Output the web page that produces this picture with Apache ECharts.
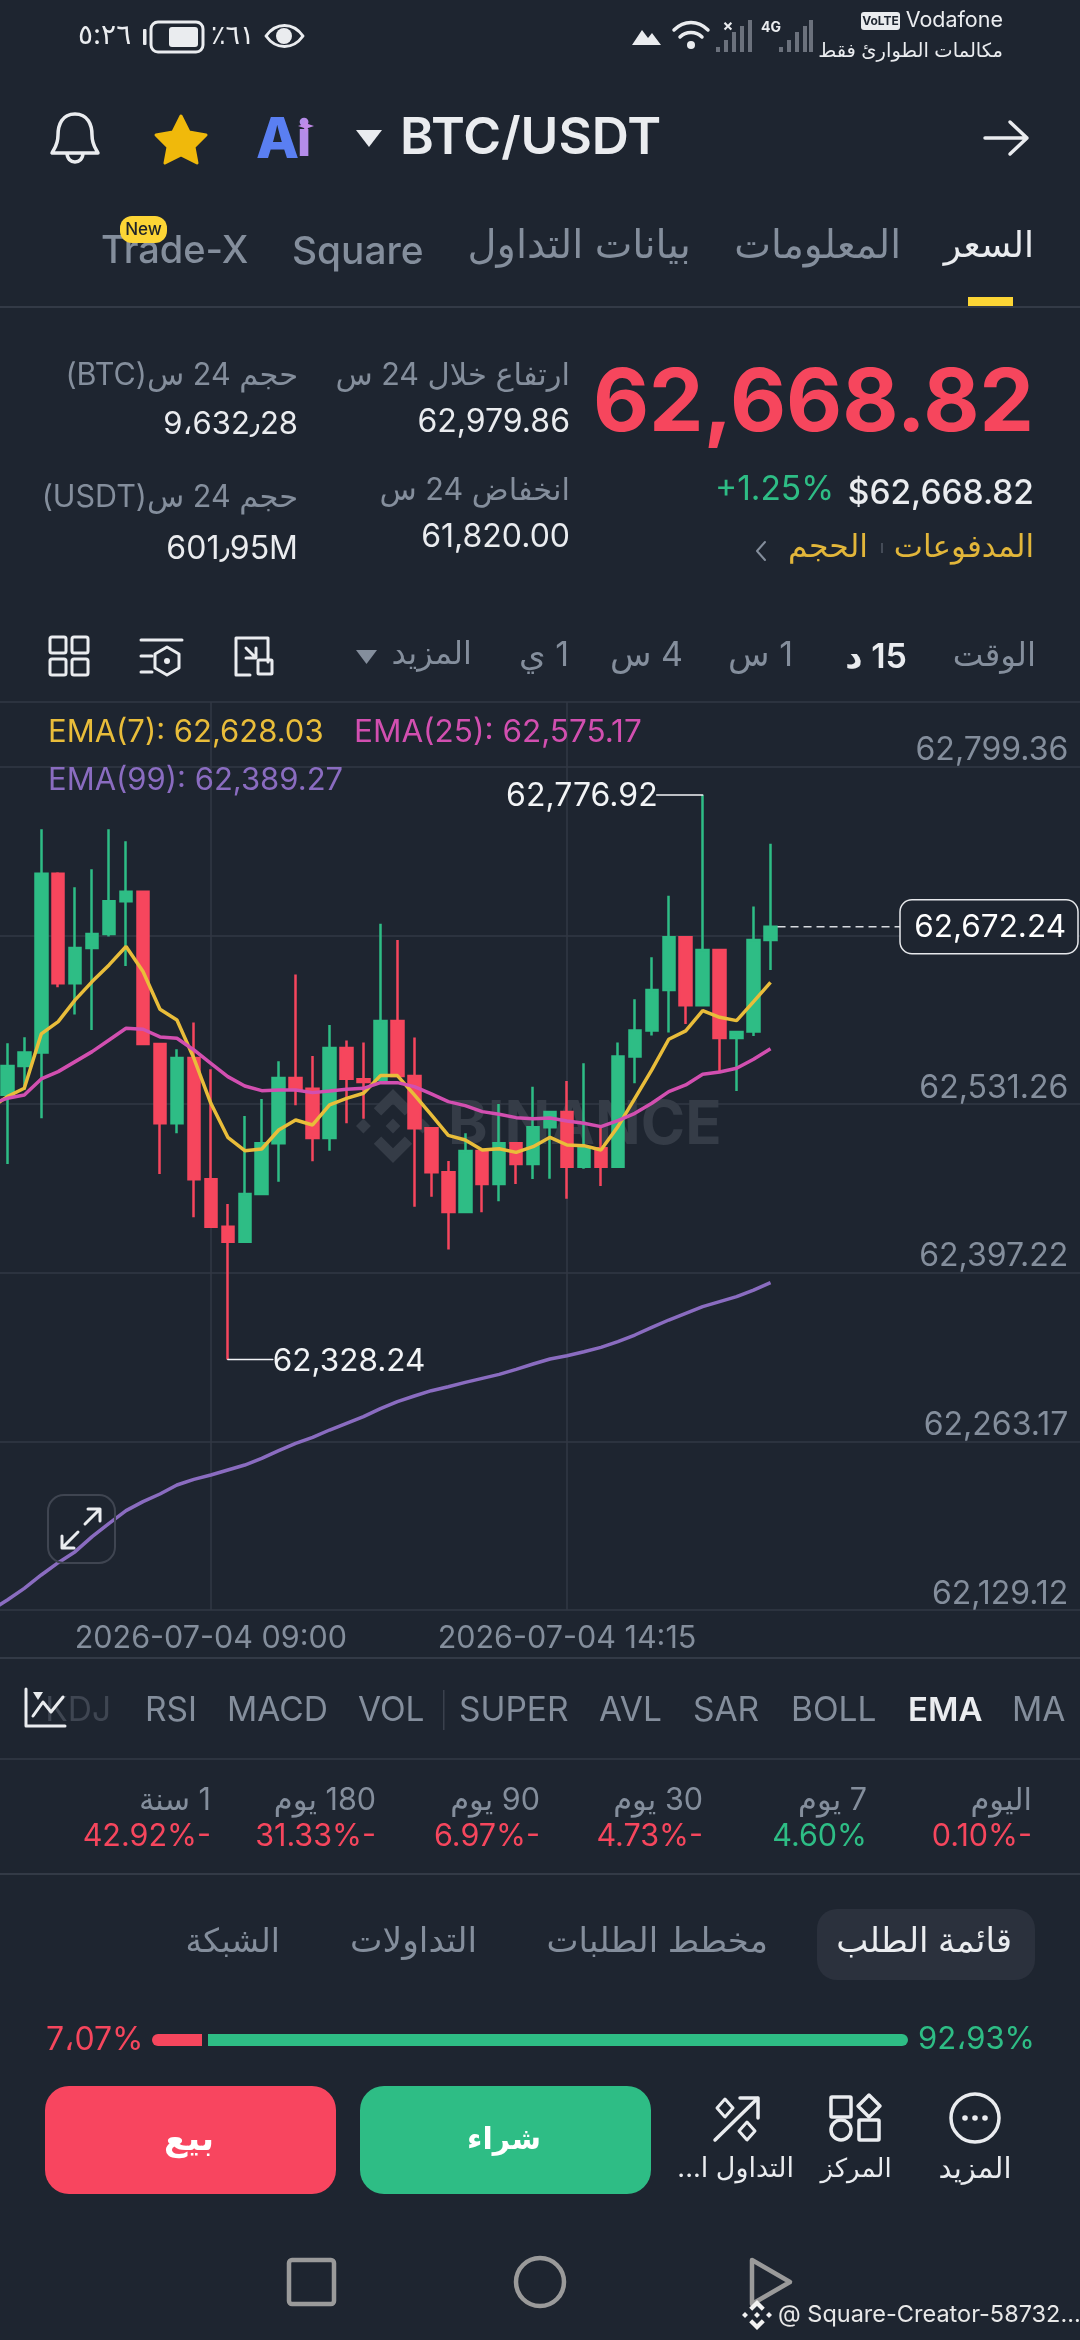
<!DOCTYPE html>
<html><head><meta charset="utf-8">
<style>html,body{margin:0;padding:0;background:#1e2530}#c{width:1080px;height:2340px}</style>
<script src="https://cdn.jsdelivr.net/npm/echarts@6/dist/echarts.min.js"></script>
</head><body><div id="c"></div>
<script>
// ---------- data ----------
const times = ['05:45','06:00','06:15','06:30','06:45','07:00','07:15','07:30','07:45','08:00','08:15','08:30','08:45','09:00','09:15','09:30','09:45','10:00','10:15','10:30','10:45','11:00','11:15','11:30','11:45','12:00','12:15','12:30','12:45','13:00','13:15','13:30','13:45','14:00','14:15','14:30','14:45','15:00','15:15','15:30','15:45','16:00','16:15','16:30','16:45','17:00','17:15'];
const datePrefix = '2026-07-04 ';
const labelledTimes = ['09:00','14:15'];
// open, close, low, high
const candles = [
['-','-','-','-'],
[62538.77,62561.56,62483.62,62579.59],[62561.56,62572.17,62542.48,62584.36],[62572.17,62714.26,62519.94,62749.79],[62714.26,62627.31,62624.13,62715.59],
[62627.31,62655.41,62602.39,62703.66],[62655.41,62666.54,62590.19,62717.97],[62666.54,62692.52,62664.42,62749.79],[62692.52,62699.95,62641.09,62740.24],
[62699.95,62579.06,62579.06,62699.95],[62579.06,62515.97,62475.67,62579.06],[62515.97,62567.93,62508.01,62574.82],[62567.93,62471.43,62441.21,62596.03],
[62471.43,62433.79,62433.79,62558.91],[62433.79,62421.86,62328.24,62451.81],[62421.86,62459.77,62421.86,62521.80],[62459.77,62500.06,62459.77,62535.32],
[62500.06,62552.02,62469.57,62565.28],[62552.02,62543.54,62530.28,62634.20],[62543.54,62504.30,62485.75,62569.52],[62504.30,62575.88,62494.23,62594.17],
[62575.88,62551.49,62515.97,62581.71],[62550.96,62548.84,62519.68,62580.12],[62550.43,62597.35,62550.43,62674.50],[62597.35,62553.61,62553.61,62661.77],
[62553.61,62511.99,62449.69,62584.10],[62511.99,62477.00,62457.64,62511.99],[62477.00,62445.45,62415.76,62486.01],[62445.45,62493.96,62445.45,62508.01],
[62493.96,62467.72,62445.18,62493.96],[62467.72,62500.06,62453.93,62531.34],[62500.06,62483.62,62467.72,62500.06],[62483.62,62512.79,62471.69,62545.13],
[62512.79,62524.98,62471.96,62524.98],[62524.98,62481.50,62456.05,62549.63],[62481.50,62496.08,62479.91,62563.68],[62496.08,62481.50,62466.13,62513.32],
[62481.50,62568.99,62481.50,62580.12],[62568.99,62589.66,62547.78,62614.58],[62589.66,62622.01,62585.69,62647.99],[62622.01,62663.89,62588.07,62696.77],
[62663.89,62609.81,62594.97,62663.89],[62609.81,62653.82,62609.81,62776.92],[62653.82,62583.83,62557.06,62653.82],[62583.83,62588.60,62541.68,62588.60],
[62588.87,62661.77,62585.42,62688.28],[62661.77,62672.24,62637.91,62738.12]];
const ema7 = [62527.90,62537.17,62543.80,62587.01,62596.82,62614.05,62628.63,62641.89,62656.47,62636.59,62606.63,62598.15,62567.66,62531.87,62504.83,62494.23,62495.55,62510.66,62518.62,62514.64,62530.55,62535.85,62539.83,62553.88,62553.88,62538.50,62522.59,62506.42,62502.71,62494.76,62495.82,62492.90,62497.41,62504.83,62498.74,62498.21,62494.76,62513.32,62535.85,62558.38,62582.77,62589.40,62605.57,62600.27,62597.62,62612.73,62628.03];
const ema25 = [62531.34,62535.85,62538.50,62551.22,62557.06,62565.01,62572.96,62582.24,62591.52,62590.73,62584.63,62583.57,62574.29,62563.68,62553.08,62545.66,62541.95,62542.48,62542.48,62540.36,62541.68,62543.01,62543.80,62548.31,62548.31,62545.13,62539.30,62533.20,62530.02,62525.25,62523.12,62520.47,62519.68,62520.21,62517.82,62515.97,62513.32,62518.09,62523.92,62531.87,62541.15,62546.45,62554.94,62556.79,62559.71,62566.87,62575.17];
const ema99 = [62128.60,62137.08,62146.35,62156.95,62166.75,62175.49,62187.41,62198.01,62208.08,62215.23,62221.32,62228.48,62232.98,62236.42,62240.40,62244.37,62249.67,62255.76,62261.59,62266.36,62272.19,62277.49,62282.79,62289.15,62294.71,62299.21,62303.45,62306.63,62310.07,62313.25,62316.43,62320.41,62324.65,62328.62,62331.27,62334.45,62337.89,62342.40,62347.69,62353.79,62359.62,62364.92,62370.21,62374.19,62378.16,62383.46,62389.27];
const yLabels = [62129.12,62263.17,62397.22,62531.26,62665.31,62799.36];
const yGridExtra = [62850.86];
const axisMin = 62129.12, axisMax = 62850.86;
const blankSlots = 18;

// ---------- style ----------
const BG='#1e2530', GRID='#323844', GREEN='#2ebd85', RED='#f6465d', YEL='#f0b90b', MUTED='#848e9c', LIGHT='#eaecef',
      C7='#e9bd3a', C25='#d24fb0', C99='#8a6cc0', FONT='Inter, "DejaVu Sans", sans-serif';
const fmt = v => v.toLocaleString('en-US',{minimumFractionDigits:2,maximumFractionDigits:2});

const chart = echarts.init(document.getElementById('c'),null,{renderer:'canvas',width:1080,height:2340});
const cats = times.concat(Array.from({length:blankSlots},(_,i)=>' '.repeat(i+1)));
const lineS = (name,d,c,w)=>({name,type:'line',data:d,symbol:'none',showSymbol:false,smooth:false,lineStyle:{color:c,width:w},silent:true,z:4});
chart.setOption({
  animation:false,backgroundColor:BG,
  grid:{left:-18.11,width:1102.4,top:702,height:908,containLabel:false,outerBoundsMode:'none'},
  xAxis:{type:'category',data:cats,boundaryGap:true,
    axisLine:{show:false},
    axisTick:{show:false,alignWithLabel:true,interval:(i,v)=>labelledTimes.includes(v)},
    axisLabel:{interval:(i,v)=>labelledTimes.includes(v),formatter:v=>datePrefix+v,color:MUTED,fontSize:30.5,fontFamily:FONT,margin:13},
    splitLine:{show:true,alignWithLabel:true,interval:(i,v)=>labelledTimes.includes(v),lineStyle:{color:GRID,width:1.5}}},
  yAxis:{type:'value',position:'right',min:axisMin,max:axisMax,scale:true,
    axisLine:{show:false},
    axisTick:{show:false,customValues:yLabels.concat(yGridExtra)},
    axisLabel:{inside:true,customValues:yLabels,formatter:v=>fmt(v),color:MUTED,fontSize:32,fontFamily:FONT,align:'right',verticalAlign:'bottom',margin:16,padding:[0,0,0,0]},
    splitLine:{show:true,lineStyle:{color:GRID,width:1.5}}},
  series:[
    {type:'candlestick',data:candles,barWidth:12,silent:true,z:3,
      itemStyle:{color:GREEN,color0:RED,borderColor:GREEN,borderColor0:RED,borderWidth:2.5}},
    lineS('EMA(7)',ema7,C7,3.5),lineS('EMA(25)',ema25,C25,3.5),lineS('EMA(99)',ema99,C99,3.5)
  ]
});

// ---------- page furniture ----------
const g=[];
let pathNo=0;
const rtl=s=>/[\u0621-\u064A]/.test(s)?'\u202B'+s+'\u202C':s;
const T=(text,x,y,size,fill,align='left',weight='normal',z=6)=>g.push({type:'text',z,silent:true,x,y,style:{text:rtl(text),fill,fontSize:size,fontFamily:FONT,fontWeight:weight,align,verticalAlign:'middle'}});
const R=(x,y,w,h,r,fill,stroke,lw,z=5)=>g.push({type:'rect',z,silent:true,shape:{x,y,width:w,height:h,r},style:{fill:fill||'none',stroke:stroke||'none',lineWidth:lw||0}});
const H=(d,fill,stroke,lw,z=6)=>{const name='ui'+(pathNo++);echarts.graphic.registerShape(name,echarts.graphic.extendPath(d,{}));
  g.push({type:name,z,silent:true,shape:{},style:{fill:fill||'none',stroke:stroke||'none',lineWidth:lw||0,lineCap:'round',lineJoin:'round'}});};
const C=(cx,cy,r,fill,stroke,lw,z=6)=>g.push({type:'circle',z,silent:true,shape:{cx,cy,r},style:{fill:fill||'none',stroke:stroke||'none',lineWidth:lw||0}});
const logo=(cx,cy,s,fill,z)=>{
  const p=a=>a.map(([x,y],i)=>(i?'L':'M')+(cx+x*s).toFixed(1)+' '+(cy+y*s).toFixed(1)).join(' ')+' Z';
  H(p([[0,-1],[.52,-.48],[.32,-.28],[0,-.6],[-.32,-.28],[-.52,-.48]]),fill,null,0,z);
  H(p([[0,1],[.52,.48],[.32,.28],[0,.6],[-.32,.28],[-.52,.48]]),fill,null,0,z);
  H(p([[-1,0],[-.8,-.2],[-.6,0],[-.8,.2]]),fill,null,0,z);
  H(p([[1,0],[.8,-.2],[.6,0],[.8,.2]]),fill,null,0,z);
  H(p([[0,-.2],[.2,0],[0,.2],[-.2,0]]),fill,null,0,z);
};

// status bar
T('٥:٢٦',78,36,28,LIGHT);
R(143,29,3.5,16,1,LIGHT); R(151,22,52,30,7,null,LIGHT,3); R(169,27,29,20,3,LIGHT);
T('٪٦١',211,36,27,LIGHT);
H('M266 36 C276 22 293 22 303 36 C293 50 276 50 266 36 Z',null,LIGHT,3); C(284,36,8,LIGHT);
H('M632 45 L642 30 L648 38 L652 33 L661 45 Z',LIGHT);
H('M674 30 C684 20 698 20 708 30 M680 37 C686 31 696 31 702 37',null,LIGHT,3.5); C(691,45,4,LIGHT);
T('×',728,26,16,LIGHT,'center','bold');
[[716,47],[724,40],[732,32],[740,26],[748,20]].forEach(([x,y])=>R(x,y,4,52-y,0,'#6b717c'));
T('4G',761,28,14,LIGHT,'left','bold');
[[779,47],[787,40],[795,32],[803,26],[809,20]].forEach(([x,y])=>R(x,y,4,52-y,0,'#6b717c'));
R(861,12,39,18,3,LIGHT); T('VoLTE',880.5,21.5,12,BG,'center','bold');
T('Vodafone',1003,21,21.5,LIGHT,'right');
T('مكالمات الطوارئ فقط',1003,51,19.5,LIGHT,'right');

// header
H('M75 114 C62 114 58 125 58 135 C58 145 54 149 52 153 L98 153 C96 149 92 145 92 135 C92 125 88 114 75 114 Z M67 153 C67 165 83 165 83 153',null,LIGHT,3.5);
H('M181 116 L189 132 L206 135 L194 147 L197 163 L181 155 L165 163 L168 147 L156 135 L173 132 Z',YEL,YEL,3);
T('A',256,141,56,'#5a7ff2','left','800');
T('i',297,141,50,'#b48ce9','left','800');
H('M306 118 L308 124 L314 126 L308 128 L306 134 L304 128 L298 126 L304 124 Z','#c08ae8');
H('M356 130 L382 130 L369 147 Z',LIGHT);
T('BTC/USDT',400,139,51.4,LIGHT,'left','600');
H('M985 138 L1027 138 M1010 122 L1027 138 L1010 154',null,LIGHT,3.5);

// tabs
T('السعر',1034,246,36,LIGHT,'right','normal');
T('المعلومات',901,246,39,MUTED,'right');
T('بيانات التداول',691,246,40,MUTED,'right');
T('Square',292,252,38.8,MUTED,'left','500');
T('Trade-X',101,252,38,MUTED,'left','500');
R(120,216,47,27,12,'#fcd535',null,0,7); T('New',143.5,229.5,17,'#1e2329','center','500',8);
R(968,297,45,9,0,'#fcd535',null,0,7);
R(0,306,1080,2,0,'#333a46');

// stats
T('62,668.82',1034,405,86.5,RED,'right','700');
T('ارتفاع خلال 24 س',570,376,30.5,MUTED,'right');
T('62,979.86',570,422,32,LIGHT,'right');
T('حجم 24 س(BTC)',298,376,30.5,MUTED,'right');
T('9،632٫28',298,425,31,LIGHT,'right');
T('انخفاض 24 س',570,491,30.5,MUTED,'right');
T('61,820.00',570,537,32,LIGHT,'right');
T('حجم 24 س(USDT)',298,498,30.5,MUTED,'right');
T('601٫95M',298,549,32,LIGHT,'right');
T('+1.25%',715,490,33.5,GREEN);
T('$62,668.82',1034,494,33.5,LIGHT,'right','500');
T('المدفوعات',1034,548,31,'#e2b63a','right');
T('الحجم',868,548,31.5,'#e2b63a','right');
R(881,543,2,10,0,'#444b57');
H('M765 542 L757 551 L765 560',null,MUTED,2);

// interval row
T('الوقت',1036,656,32.5,MUTED,'right');
T('15 د',907,658,34,LIGHT,'right','600');
T('1 س',793,656,34,MUTED,'right');
T('4 س',683,656,34,MUTED,'right');
T('1 ي',569,656,34,MUTED,'right');
T('المزيد',472,654,32,MUTED,'right');
H('M356 650 L377 650 L366.5 664 Z',MUTED);
[[50,637],[72,637],[50,659],[72,659]].forEach(([x,y])=>R(x,y,16,16,2,null,LIGHT,3));
H('M141 640 L182 640 M141 656 L152 656 M141 672 L152 672',null,LIGHT,3);
H('M167 647 L179 654 L179 668 L167 675 L155 668 L155 654 Z',null,LIGHT,3); C(167,661,3,LIGHT);
H('M268 662 L268 638 L236 638 L236 675 L250 675',null,LIGHT,3);
H('M246 648 L256 658 M256 648 L256 658 L246 658',null,LIGHT,3); R(258,660,14,14,1,null,LIGHT,3);

// chart legend
const last=a=>a[a.length-1];
T('EMA(7): '+fmt(last(ema7)),48,733,31,C7);
T('EMA(25): '+fmt(last(ema25)),354,733,31.5,C25);
T('EMA(99): '+fmt(last(ema99)),48,781,31,C99);

// watermark (under series)
logo(393,1126,37,'#353c47',1);
T('BINANCE',448,1126,60,'#353c47','left','700',1);

// expand button
R(48,1495,67,68,16,null,'#3f4551',2);
H('M62 1548 L78 1532 M62 1536 L62 1548 L74 1548 M85 1524 L100 1509 M88 1509 L100 1509 L100 1521',null,LIGHT,3);

// separators and lower panels
R(0,1657,1080,2,0,'#333a46');
T('KDJ',111,1711,33.5,'#3f4652','right');
R(0,1685,68,44,0,BG);
H('M26 1689 L26 1726 L65 1726 M33 1716 L43 1702 L51 1712 L63 1697',null,LIGHT,3);
H('M33 1692 L43 1692 L38 1700 Z',LIGHT);
[['RSI',145],['MACD',227],['VOL',358],['SUPER',459],['AVL',599],['SAR',693],['BOLL',791],['MA',1012]].forEach(([s,x])=>T(s,x,1711,33.5,MUTED));
T('EMA',908,1711,33,LIGHT,'left','600');
R(443,1690,1.5,40,0,'#3a414d');
R(0,1758,1080,2,0,'#2d3440');
[[1032,'اليوم','0.10%-',RED],[867,'7 يوم','4.60%',GREEN],[703,'30 يوم','4.73%-',RED],[540,'90 يوم','6.97%-',RED],[376,'180 يوم','31.33%-',RED],[211,'1 سنة','42.92%-',RED]]
 .forEach(([x,a,b,c])=>{T(a,x,1801,30.5,MUTED,'right');T(b,x,1837,30.5,c,'right');});
R(0,1873,1080,2,0,'#333a46');
R(817,1909,218,71,20,'#2b313d');
T('قائمة الطلب',1012,1942,34,LIGHT,'right');
T('مخطط الطلبات',768,1942,34,MUTED,'right');
T('التداولات',477,1942,34.5,MUTED,'right');
T('الشبكة',280,1942,33,MUTED,'right');
T('7،07%',46,2040,32,RED);
T('92،93%',1035,2040,31,GREEN,'right');
g.push({type:'rect',z:5,silent:true,shape:{x:152,y:2034,width:50,height:12,r:[6,0,0,6]},style:{fill:RED}});
g.push({type:'rect',z:5,silent:true,shape:{x:208,y:2034,width:700,height:12,r:[0,6,6,0]},style:{fill:GREEN}});
R(45,2086,291,108,24,'#f8455f');
R(360,2086,291,108,24,GREEN);
T('بيع',189,2140,34,'#fff','center','700');
T('شراء',504,2140,30,'#fff','center','700');
H('M715 2140 L758 2098 M740 2098 L758 2098 L758 2118',null,LIGHT,3.5);
H('M725 2099 L733 2108 L725 2117 L717 2108 Z M747 2122 L755 2131 L747 2140 L739 2131 Z',null,LIGHT,3);
T('التداول ا...',794,2169,27,LIGHT,'right');
R(831,2097,20,20,1,null,LIGHT,3.5);
H('M869 2095 L880 2106 L869 2117 L858 2106 Z',null,LIGHT,3.5);
C(841,2130,10,null,LIGHT,3.5); R(859,2120,20,20,1,null,LIGHT,3.5);
T('المركز',856,2169,26,LIGHT,'center');
C(975,2118,24,null,LIGHT,3.5);
[965,975,985].forEach(x=>C(x,2118,2.8,LIGHT));
T('المزيد',975,2169,29,LIGHT,'center');
R(289,2260,45,44,3,null,'#9a9a9a',4.5);
C(540,2282,24,null,'#9a9a9a',4.5);
H('M752 2260 L790 2282 L752 2304 Z',null,'#9a9a9a',4.5);
logo(757,2315,15,'#f2f2f2',8);
T('@ Square-Creator-58732...',778,2315,23.5,'#e8e8e8','left','normal',8);

// price annotations, anchored on the data through the chart's own scales
const px=(i,v)=>chart.convertToPixel({xAxisIndex:0,yAxisIndex:0},[i,v]);
const hiIdx=candles.reduce((b,c,i)=>(c[3]!=='-'&&c[3]>candles[b][3])?i:b,1);
const loIdx=candles.reduce((b,c,i)=>(c[2]!=='-'&&c[2]<candles[b][2])?i:b,1);
const [hx,hy]=px(hiIdx,candles[hiIdx][3]), [lx,ly]=px(loIdx,candles[loIdx][2]);
H(`M${hx} ${hy} L${hx-46} ${hy}`,null,'#f2f4f6',1.5);
T(fmt(candles[hiIdx][3]),hx-45,hy+1,32,'#f2f4f6','right');
H(`M${lx} ${ly} L${lx+45} ${ly}`,null,'#f2f4f6',1.5);
T(fmt(candles[loIdx][2]),lx+45,ly+2,31.5,'#f2f4f6','left');
const lastClose=candles[candles.length-1][1];
const [cx,cy]=px(candles.length-1,lastClose);
g.push({type:'line',z:6,silent:true,shape:{x1:cx+7,y1:cy,x2:900,y2:cy},style:{stroke:'#d8dbe0',lineWidth:1.5,lineDash:[8,5]}});
R(900,cy-27,178,54,12,BG,'#e6e8eb',1.5,7);
T(fmt(lastClose),1066,cy+1,31.5,'#ffffff','right','normal',8);

chart.setOption({graphic:{elements:g}});
</script></body></html>
